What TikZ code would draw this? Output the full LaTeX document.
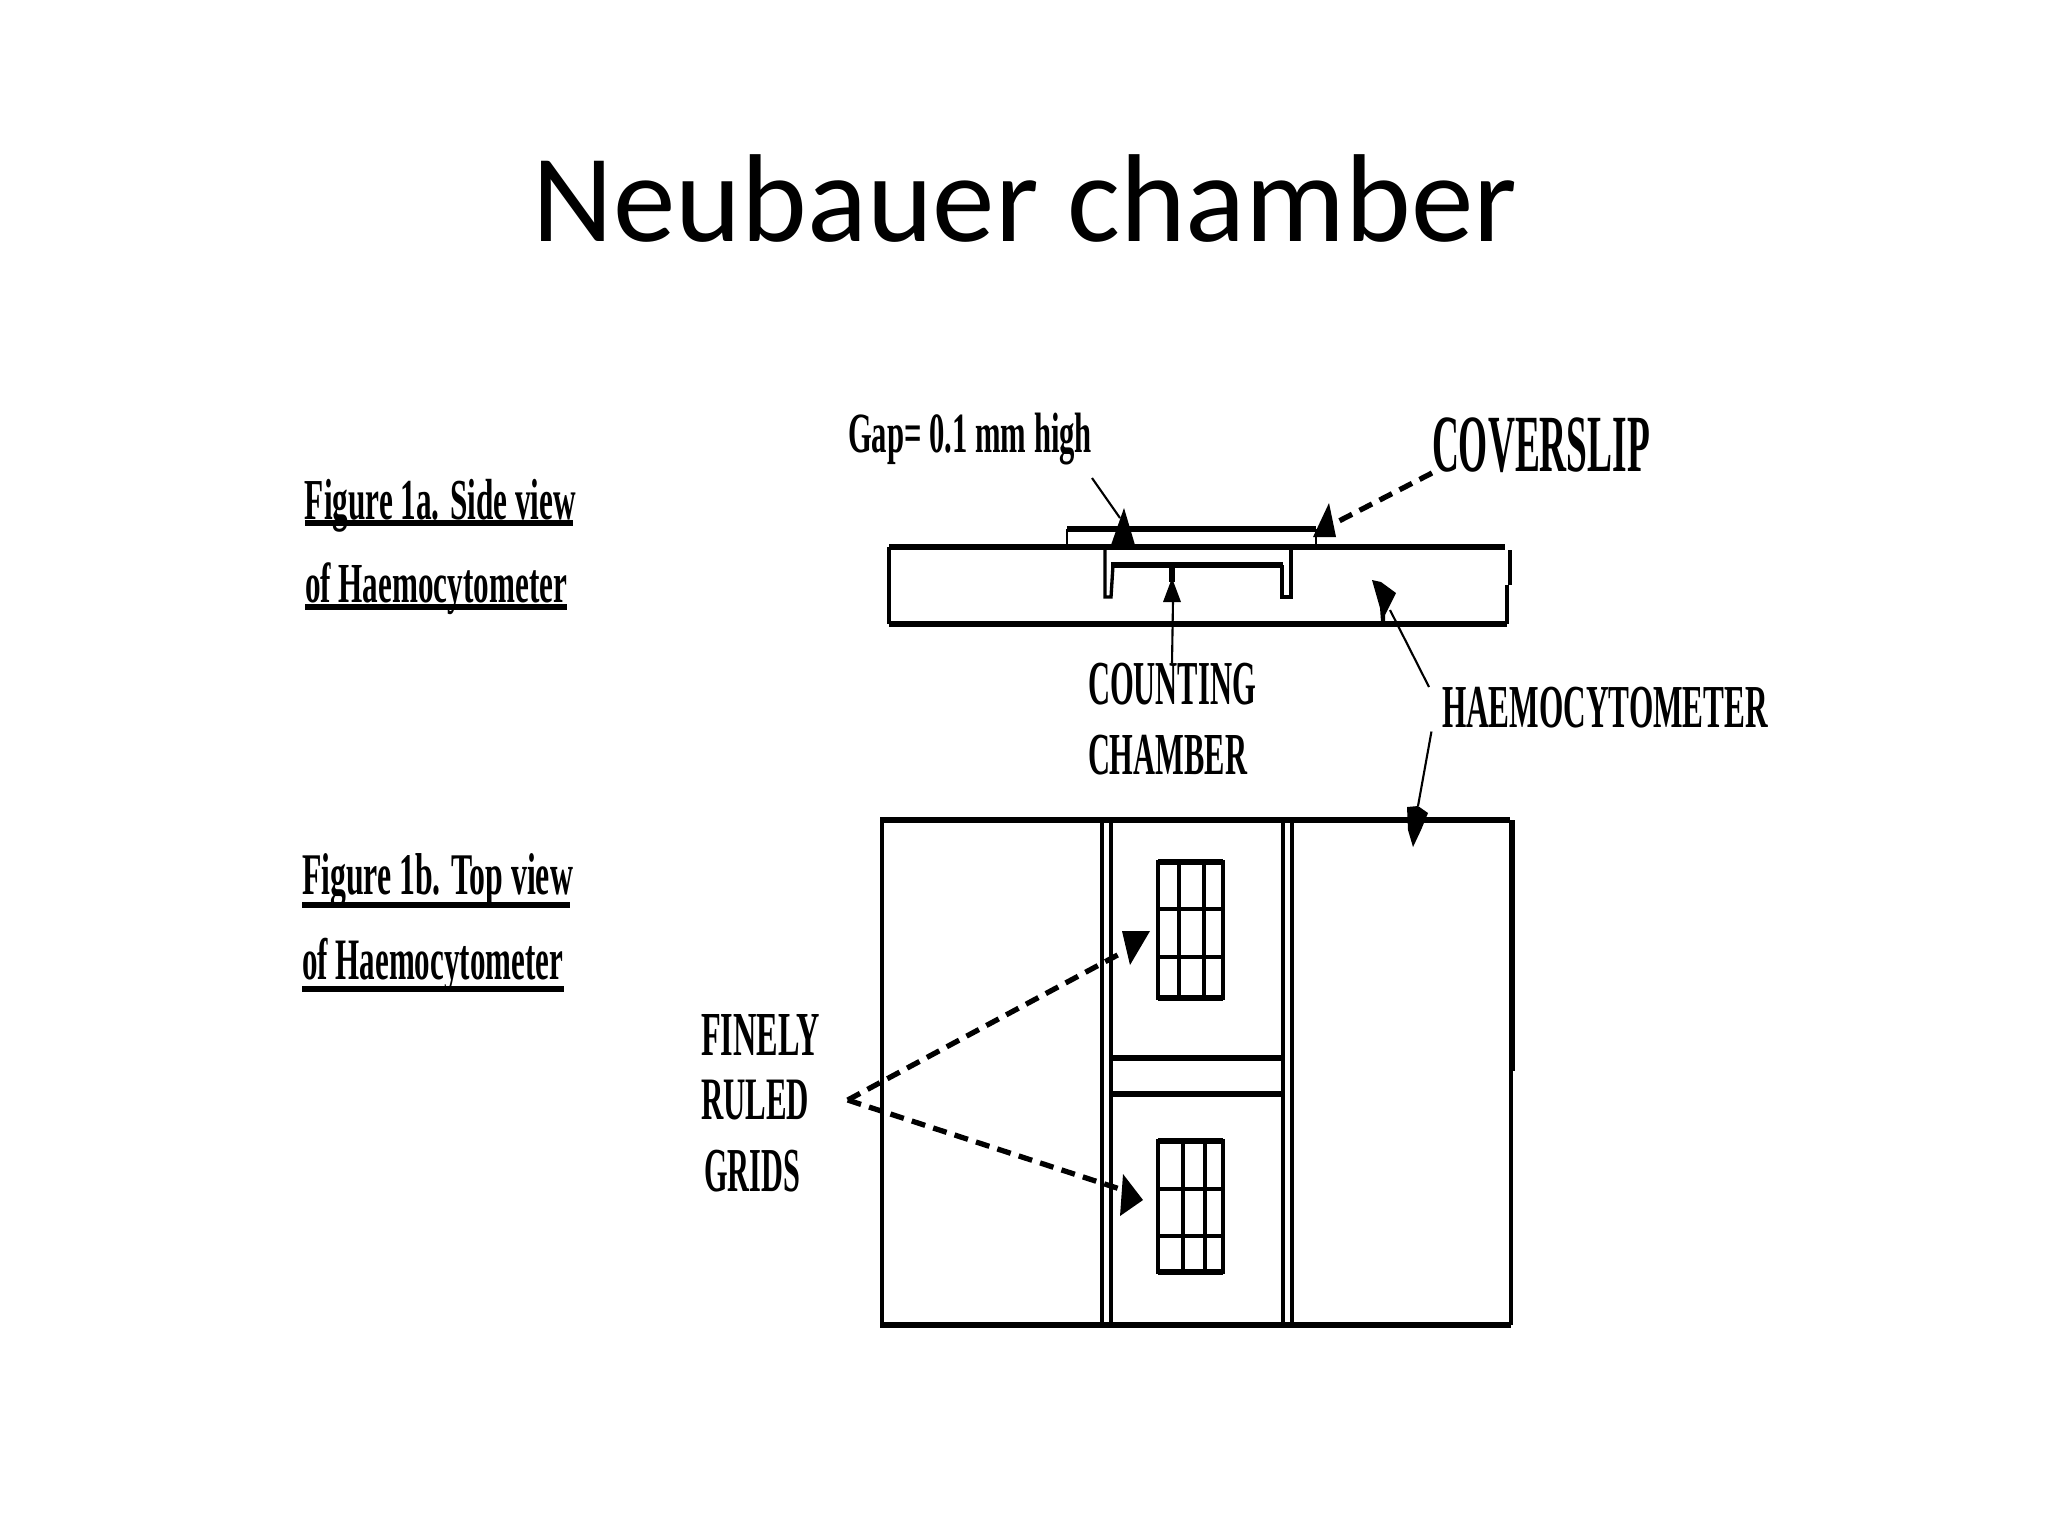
\documentclass[tikz,border=0pt]{standalone}
\usepackage{fontspec}
\usepackage{graphicx}
\setmainfont{Liberation Serif}
\newfontfamily\titlefont{Carlito}
\usetikzlibrary{positioning}

\newcommand{\fitlabel}[3]{\resizebox*{#1}{#2}{\bfseries #3}}

\tikzset{
    thinline/.style={line width=0.95pt},
    midline/.style={line width=1.2pt},
    thickline/.style={line width=1.5pt},
    leader/.style={line width=0.6pt},
    dashleader/.style={line width=1.5pt, dash pattern=on 4pt off 2.4pt},
    tiplabel/.style={inner sep=0pt, outer sep=0pt},
}

\begin{document}
\begin{tikzpicture}[x=0.1mm,y=-0.1mm]
        \useasboundingbox (0,0) rectangle (2048,1536);

        % title and captions
        \node[tiplabel] (title) at (1025,199) {\resizebox{98.4mm}{!}{\titlefont Neubauer chamber}};
        \node[tiplabel] (figa) at (440.5,505.5) {\fitlabel{27.1mm}{5.3mm}{Figure 1a. Side view}};
        \node[tiplabel] (figb) at (436,589) {\fitlabel{26.2mm}{5.2mm}{of Haemocytometer}};
        \node[tiplabel] (figc) at (437.5,881) {\fitlabel{27.1mm}{5.4mm}{Figure 1b. Top view}};
        \node[tiplabel] (figd) at (432.5,965) {\fitlabel{26.1mm}{5.4mm}{of Haemocytometer}};
        \draw[thickline] (305,523) -- (573,523);
        \draw[thickline] (305,607) -- (567,607);
        \draw[thickline] (302,905) -- (570,905);
        \draw[thickline] (302,989) -- (564,989);

        % side view
        \draw[thickline] (889,547) -- (1505,547);
        \draw[thickline] (889,624) -- (1507,624);
        \draw[thinline] (889,547) -- (889,624);
        \draw[midline] (1510,550) -- (1510,585);
        \draw[thinline] (1507,585) -- (1507,624);
        \draw[thickline] (1067,529) -- (1316,529);
        \draw[leader] (1067,529) -- (1067,547);
        \draw[leader] (1316,529) -- (1316,547);
        \draw[thickline] (1111,565) -- (1283,565);
        \draw[thinline] (1105,547) -- (1105,597) -- (1111,597) -- (1113,565);
        \draw[thinline] (1291,547) -- (1291,597) -- (1282,597) -- (1282,565);

        % top view
        \draw[thickline] (880,820) -- (1510,820);
        \draw[thickline] (880,1325) -- (1511,1325);
        \draw[midline] (882,820) -- (882,1075);
        \draw[thinline] (882,1075) -- (882,1325);
        \draw[thickline] (1512,820) -- (1512,1071);
        \draw[thinline] (1511,1071) -- (1511,1325);
        \foreach \xpos in {1102,1111,1283,1292} {
            \draw[thinline] (\xpos,820) -- (\xpos,1325);
        }
        \draw[thickline] (1111,1058) -- (1283,1058);
        \draw[thickline] (1111,1094) -- (1283,1094);

        % ruled grids
        \draw[thinline] (1158,862) rectangle (1223,998);
        \draw[thickline] (1158,862) -- (1223,862);
        \draw[thickline] (1158,998) -- (1223,998);
        \draw[thinline] (1179,862) -- (1179,998);
        \draw[thinline] (1204,862) -- (1204,998);
        \draw[midline] (1158,909) -- (1223,909);
        \draw[midline] (1158,957) -- (1223,957);
        \draw[thinline] (1158,1141) rectangle (1223,1272);
        \draw[thickline] (1158,1141) -- (1223,1141);
        \draw[thickline] (1158,1272) -- (1223,1272);
        \draw[thinline] (1183,1141) -- (1183,1272);
        \draw[thinline] (1205,1141) -- (1205,1272);
        \draw[midline] (1158,1189) -- (1223,1189);
        \draw[midline] (1158,1236) -- (1223,1236);

        % labels
        \node[tiplabel] (gap) at (970,439) {\fitlabel{24.4mm}{5.2mm}{Gap= 0.1 mm high}};
        \node[tiplabel] (coverslip) at (1541,445.5) {\fitlabel{21.8mm}{5.5mm}{COVERSLIP}};
        \node[tiplabel] (counting) at (1172,684) {\fitlabel{16.8mm}{4.2mm}{COUNTING}};
        \node[tiplabel] (chamber) at (1167.5,755) {\fitlabel{15.9mm}{4mm}{CHAMBER}};
        \node[tiplabel] (haemo) at (1605,707.5) {\fitlabel{32.6mm}{4.1mm}{HAEMOCYTOMETER}};
        \node[tiplabel] (finely) at (760.5,1034.5) {\fitlabel{11.9mm}{4.1mm}{FINELY}};
        \node[tiplabel] (ruled) at (755,1100) {\fitlabel{10.8mm}{4mm}{RULED}};
        \node[tiplabel] (grids) at (752,1171) {\fitlabel{9.6mm}{4.2mm}{GRIDS}};

        % leader ends
        \coordinate (gapfoot) at ([yshift=-3.7pt]gap.south east);
        \coordinate (gaptip) at (1120,518);
        \coordinate (covertip) at (1337,522);
        \coordinate (counttip) at (1173,600);
        \coordinate (sidetip) at (1390,610);
        \coordinate (toptip) at (1418,806);
        \coordinate[right=11pt of ruled] (apex);
        \coordinate (gridone) at (1125,951);
        \coordinate (gridtwo) at (1120,1189);

        \draw[leader] (gapfoot) -- (gaptip);
        \draw[dashleader] (coverslip.south west) -- (covertip);
        \draw[leader] (counting.north) -- (counttip);
        \draw[leader] ([xshift=-3.7pt]haemo.north west) -- (sidetip);
        \draw[leader] ([xshift=-3pt,yshift=-1pt]haemo.south west) -- (toptip);
        \draw[dashleader] (apex) -- (gridone);
        \draw[dashleader] (apex) -- (gridtwo);

        % arrow heads
        \fill (1124,508) -- (1135,545) -- (1111,545) -- cycle;
        \fill (1329,503) -- (1336,537) -- (1313,537) -- cycle;
        \fill (1169,565) rectangle (1175,582);
        \fill (1172,578) -- (1181,602) -- (1163,602) -- cycle;
        \fill (1372,580) -- (1381,582) -- (1396,593) -- (1385,615) -- (1385,622) -- (1381,622) -- (1380,608) -- cycle;
        \fill (1407,807) -- (1418,806) -- (1428,813) -- (1421,830) -- (1413,847) -- (1408,830) -- cycle;
        \fill (1122,931) -- (1150,931) -- (1130,965) -- cycle;
        \fill (1123,1174) -- (1143,1200) -- (1120,1216) -- cycle;

\end{tikzpicture}
\end{document}
